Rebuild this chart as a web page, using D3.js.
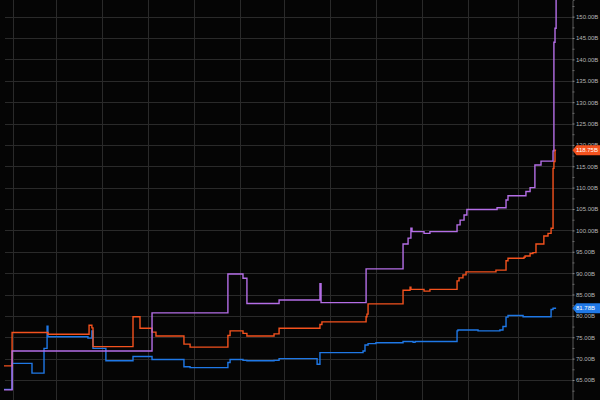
<!DOCTYPE html>
<html><head><meta charset="utf-8">
<script src="https://cdn.jsdelivr.net/npm/d3@7"></script>
<style>html,body{margin:0;padding:0;background:#050505;} svg{display:block}</style>
</head><body>
<svg id="chart" width="600" height="400"></svg>
<script>
// Vertical gridline positions (trading-day index, month starts)
const gridDays = [4, 24, 45, 66, 87, 108, 128, 149, 170, 191, 212, 235];
// Y tick values (billions)
const yTickValues = d3.range(60, 155, 5);
const yMinorTickValues = d3.range(62.5, 155, 5);

const purpleDays = [0, 3.7, 67.7, 102.4, 109.3, 111.1, 125.8, 144.5, 145.0, 165.6, 182.5, 184.8, 186.1, 186.6, 192.1, 194.8, 207.2, 208.6, 210.4, 211.7, 225.5, 229.6, 230.5, 238.7, 240.6, 242.8, 245.6, 251.1, 251.5, 252.0, 252.5];
const purpleValues = [62.7, 71.8, 80.7, 89.8, 88.8, 82.9, 83.7, 87.5, 83.1, 91.0, 96.8, 98.2, 100.5, 99.7, 99.3, 99.7, 101.3, 102.4, 103.6, 104.9, 105.3, 107.1, 108.1, 109.1, 110.0, 115.3, 116.2, 118.6, 144.0, 147.3, 156.0];

const orangeDays = [0, 3.7, 20.1, 38.9, 40.2, 40.7, 59.0, 62.2, 67.7, 69.5, 82.3, 85.1, 102.4, 103.4, 109.3, 111.1, 123.5, 125.8, 144.5, 145.4, 165.6, 166.0, 166.5, 182.5, 185.7, 186.1, 192.1, 194.8, 207.2, 208.1, 209.9, 211.3, 225.0, 229.6, 230.5, 237.8, 238.3, 240.6, 241.9, 243.3, 246.9, 248.8, 250.2, 251.1, 251.5, 252.0, 252.5];
const orangeValues = [68.3, 76.1, 75.7, 77.8, 77.2, 72.8, 79.8, 77.1, 76.2, 75.3, 73.4, 72.7, 75.4, 76.5, 75.9, 75.3, 75.8, 77.1, 78.0, 78.6, 79.8, 80.4, 82.8, 86.0, 86.7, 86.2, 85.8, 86.2, 88.2, 88.9, 89.6, 90.3, 90.7, 92.9, 93.5, 93.7, 94.0, 94.6, 94.8, 96.8, 98.7, 99.3, 100.5, 114.5, 116.1, 118.75, 118.75];

const blueDays = [0, 3.7, 12.8, 18.3, 19.7, 20.1, 38.4, 40.2, 40.7, 46.6, 59.0, 67.7, 82.3, 85.1, 102.4, 103.4, 109.3, 111.1, 123.5, 125.8, 143.2, 144.5, 164.2, 165.1, 166.5, 170.1, 182.5, 187.1, 188.0, 207.2, 207.6, 216.8, 226.8, 228.2, 229.6, 230.5, 237.4, 250.2, 251.1, 252.5];
const blueValues = [62.8, 68.9, 66.6, 72.4, 77.6, 75.1, 74.8, 76.5, 72.4, 69.5, 70.5, 69.8, 68.1, 67.9, 69.1, 69.8, 69.6, 69.5, 69.6, 70.0, 68.7, 71.4, 71.8, 73.2, 73.5, 73.7, 74.0, 73.8, 74.0, 76.5, 76.7, 76.5, 76.7, 77.5, 79.7, 80.1, 79.8, 81.5, 81.78, 81.78];

const series = [
  {name: "blue", days: blueDays, values: blueValues, color: "#1f78e6", label: true},
  {name: "orange", days: orangeDays, values: orangeValues, color: "#f4521e", label: true},
  {name: "purple", days: purpleDays, values: purpleValues, color: "#b46ee6", label: false}
];

const W = 600, H = 400;
const axisX = 572.5;
const svg = d3.select("#chart");
svg.append("rect").attr("width", W).attr("height", H).attr("fill", "#050505");

const x = d3.scaleLinear().domain([0, 260]).range([4, axisX]);
const y = d3.scaleLinear().domain([60.32, 153.9]).range([H, 0]);

// Gridlines
const grid = svg.append("g").attr("stroke", "#2a2a2a").attr("stroke-width", 1);
grid.selectAll("line.v").data(gridDays).join("line")
  .attr("x1", d => Math.round(x(d)) + 0.5).attr("x2", d => Math.round(x(d)) + 0.5)
  .attr("y1", 0).attr("y2", H);
grid.selectAll("line.h").data(yTickValues).join("line")
  .attr("x1", 5).attr("x2", axisX)
  .attr("y1", d => Math.round(y(d)) + 0.5).attr("y2", d => Math.round(y(d)) + 0.5);

// Lines
const line = d3.line().x(d => x(d[0])).y(d => y(d[1])).curve(d3.curveStepAfter);
series.forEach(s => {
  const pts = s.days.map((d, i) => [d, s.values[i]]);
  svg.append("path").datum(pts)
    .attr("fill", "none").attr("stroke", s.color).attr("stroke-width", 1.4)
    .attr("d", line);
});

// Right axis
const axG = svg.append("g").attr("transform", `translate(${axisX},0)`);
axG.call(d3.axisRight(y).tickValues(yTickValues).tickSize(2).tickPadding(1.5)
  .tickFormat(d => d.toFixed(2) + "B"));
axG.select(".domain").attr("stroke", "#5a5a5a");
axG.selectAll(".tick line").attr("stroke", "#8a8a8a");
axG.selectAll(".tick text").attr("fill", "#b5b5b5").attr("font-size", "6px")
  .attr("font-family", "'Liberation Sans', Arial, sans-serif");
const minorG = svg.append("g").attr("transform", `translate(${axisX},0)`);
minorG.call(d3.axisRight(y).tickValues(yMinorTickValues).tickSize(2).tickFormat(""));
minorG.select(".domain").remove();
minorG.selectAll(".tick line").attr("stroke", "#6a6a6a");

// Last value labels
series.filter(s => s.label).forEach(s => {
  const v = s.values[s.values.length - 1];
  const g = svg.append("g").attr("transform", `translate(${axisX},${y(v)})`);
  g.append("path").attr("d", "M0,0 L4,-5 L27.5,-5 L27.5,5 L4,5 Z").attr("fill", s.color);
  g.append("text").attr("x", 3.5).attr("y", 0).attr("dy", "0.35em")
    .attr("fill", "#ffffff").attr("font-size", "6px")
    .attr("font-family", "'Liberation Sans', Arial, sans-serif")
    .text(v.toFixed(2) + "B");
});
</script>
</body></html>
